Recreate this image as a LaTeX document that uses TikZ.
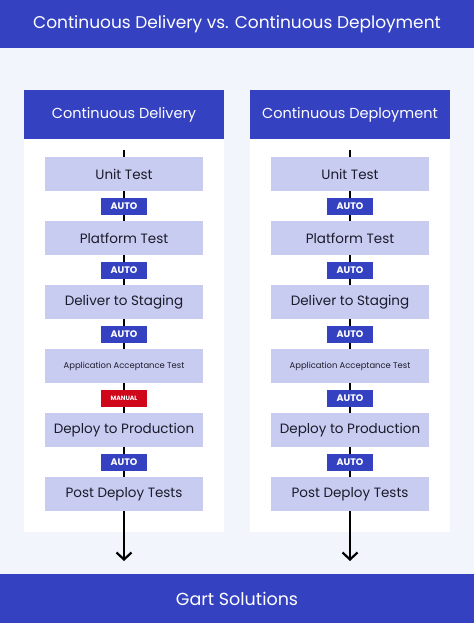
\documentclass[tikz,border=0pt]{standalone}
\usepackage{fontspec}
\setmainfont{Poppins}
\usetikzlibrary{arrows.meta,positioning}
\definecolor{gs-blue}{HTML}{3441C0}
\definecolor{gs-back}{HTML}{F3F5FC}
\definecolor{gs-step}{HTML}{C9CCF1}
\definecolor{gs-red}{HTML}{D0061B}
\definecolor{gs-text}{HTML}{1B1B2B}
\newcommand{\fsz}[1]{\fontsize{#1}{#1}\selectfont}

\begin{document}
\begin{tikzpicture}[
    x=1pt, y=-1pt,
    banner/.style={fill=gs-blue, text=white, minimum width=474pt,
                   minimum height=48pt, inner sep=0pt, font=\fsz{17}},
    head/.style={fill=gs-blue, text=white, minimum width=200pt,
                 minimum height=49pt, inner sep=0pt, font=\fsz{14.5}},
    stepbox/.style={fill=gs-step, text=gs-text, minimum width=158pt,
                    minimum height=34pt, inner sep=0pt, font=\fsz{13.5}},
    small/.style={font=\fsz{8.4}},
    badge/.style={fill=gs-blue, text=white, minimum width=46pt,
                  minimum height=17pt, inner sep=0pt, font=\bfseries\fsz{9.5}},
    manual/.style={badge, fill=gs-red, font=\bfseries\fsz{6.2}},
    flow/.style={draw=black, line width=2.2pt},
    flowend/.style={flow, -{Straight Barb[length=7pt, width=15pt, line width=2.2pt]}}
]

% =========================================================================
% FUNDO E FAIXAS
% =========================================================================
\fill[gs-back] (0,0) rectangle (474,623);
\useasboundingbox (0,0) rectangle (474,623);

\node[banner] (title) at (237,24) {Continuous Delivery vs. Continuous Deployment};
\node[banner, minimum height=49pt, font=\fsz{17.5}] (footer) at (237,598.5) {Gart Solutions};

% painéis brancos
\fill[white] (24,90) rectangle (224,532);
\fill[white] (250,90) rectangle (450,532);

% =========================================================================
% CONTINUOUS DELIVERY
% =========================================================================
\node[head] (cdhead) at (124,114.5) {Continuous Delivery};

\node[stepbox] (cd1) at (124,174) {Unit Test};
\node[stepbox] (cd2) at (124,238) {Platform Test};
\node[stepbox] (cd3) at (124,302) {Deliver to Staging};
\node[stepbox, small] (cd4) at (124,366) {Application Acceptance Test};
\node[stepbox] (cd5) at (124,430) {Deploy to Production};
\node[stepbox] (cd6) at (124,494) {Post Deploy Tests};

\coordinate (cdtop) at (124,150);
\coordinate (cdend) at (124,561);

\draw[flow] (cdtop) -- (cd1);
\draw[flow] (cd1) -- node[badge] (cda1) {AUTO} (cd2);
\draw[flow] (cd2) -- node[badge] (cda2) {AUTO} (cd3);
\draw[flow] (cd3) -- node[badge] (cda3) {AUTO} (cd4);
\draw[flow] (cd4) -- node[manual] (cdm4) {MANUAL} (cd5);
\draw[flow] (cd5) -- node[badge] (cda5) {AUTO} (cd6);
\draw[flowend] (cd6) -- (cdend);

% =========================================================================
% CONTINUOUS DEPLOYMENT
% =========================================================================
\node[head] (dphead) at (350,114.5) {Continuous Deployment};

\node[stepbox] (dp1) at (350,174) {Unit Test};
\node[stepbox] (dp2) at (350,238) {Platform Test};
\node[stepbox] (dp3) at (350,302) {Deliver to Staging};
\node[stepbox, small] (dp4) at (350,366) {Application Acceptance Test};
\node[stepbox] (dp5) at (350,430) {Deploy to Production};
\node[stepbox] (dp6) at (350,494) {Post Deploy Tests};

\coordinate (dptop) at (350,150);
\coordinate (dpend) at (350,561);

\draw[flow] (dptop) -- (dp1);
\draw[flow] (dp1) -- node[badge] (dpa1) {AUTO} (dp2);
\draw[flow] (dp2) -- node[badge] (dpa2) {AUTO} (dp3);
\draw[flow] (dp3) -- node[badge] (dpa3) {AUTO} (dp4);
\draw[flow] (dp4) -- node[badge] (dpa4) {AUTO} (dp5);
\draw[flow] (dp5) -- node[badge] (dpa5) {AUTO} (dp6);
\draw[flowend] (dp6) -- (dpend);

\end{tikzpicture}
\end{document}
